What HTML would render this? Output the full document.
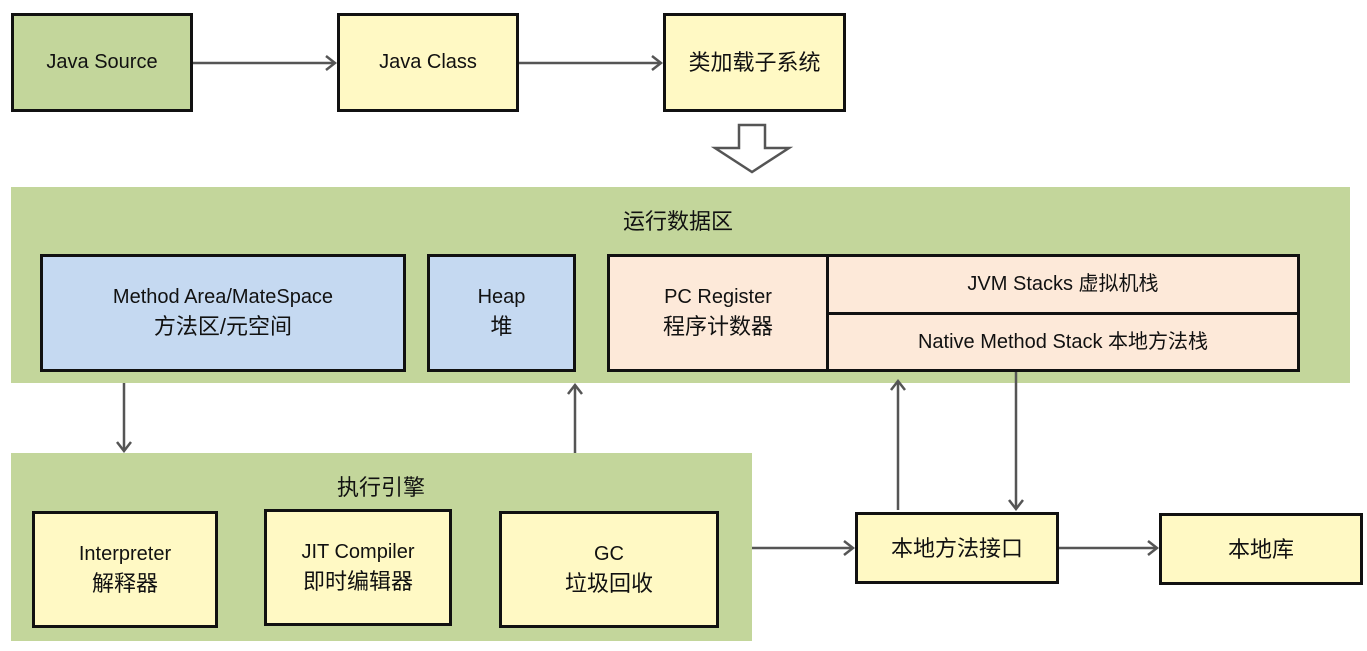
<!DOCTYPE html>
<html><head><meta charset="utf-8"><style>
body{margin:0;width:1367px;height:651px;background:#fff;position:relative;overflow:hidden;font-family:"Liberation Sans","Noto Sans CJK SC",sans-serif;color:#111}
.b{position:absolute;box-sizing:border-box;border:3px solid #111;display:flex;align-items:center;justify-content:center;text-align:center;font-size:20px;line-height:29px}
.b span{font-size:22px}
.g{position:absolute;background:#c3d69b}
.y{background:#fff9c4}.gr{background:#c3d69b}.bl{background:#c5d9f1}.p{background:#fde9d9}
.t{position:absolute;font-size:22px;transform:translateX(-50%)}
svg{position:absolute;left:0;top:0}
</style></head><body>
<div class="g" style="left:11px;top:187px;width:1339px;height:196px"></div>
<div class="g" style="left:11px;top:453px;width:741px;height:188px"></div>
<div class="t" style="left:678px;top:204px">运行数据区</div>
<div class="t" style="left:381px;top:470px">执行引擎</div>
<div class="b gr" style="left:11px;top:13px;width:182px;height:99px">Java Source</div>
<div class="b y" style="left:337px;top:13px;width:182px;height:99px">Java Class</div>
<div class="b y" style="left:663px;top:13px;width:183px;height:99px;font-size:22px">类加载子系统</div>
<div class="b bl" style="left:40px;top:254px;width:366px;height:118px"><div>Method Area/MateSpace<br><span>方法区/元空间</span></div></div>
<div class="b bl" style="left:427px;top:254px;width:149px;height:118px"><div>Heap<br><span>堆</span></div></div>
<div class="b p" style="left:607px;top:254px;width:222px;height:118px"><div>PC Register<br><span>程序计数器</span></div></div>
<div class="b p" style="left:826px;top:254px;width:474px;height:61px">JVM Stacks 虚拟机栈</div>
<div class="b p" style="left:826px;top:312px;width:474px;height:60px">Native Method Stack 本地方法栈</div>
<div class="b y" style="left:32px;top:511px;width:186px;height:117px"><div>Interpreter<br><span>解释器</span></div></div>
<div class="b y" style="left:264px;top:509px;width:188px;height:117px"><div>JIT Compiler<br><span>即时编辑器</span></div></div>
<div class="b y" style="left:499px;top:511px;width:220px;height:117px"><div>GC<br><span>垃圾回收</span></div></div>
<div class="b y" style="left:855px;top:512px;width:204px;height:72px;font-size:22px">本地方法接口</div>
<div class="b y" style="left:1159px;top:513px;width:204px;height:72px;font-size:22px">本地库</div>
<svg width="1367" height="651">
<defs><marker id="a" markerWidth="14" markerHeight="16" refX="12" refY="8" orient="auto" markerUnits="userSpaceOnUse"><path d="M3,1 L12,8 L3,15" fill="none" stroke="#555" stroke-width="2.5"/></marker></defs>
<g stroke="#555" stroke-width="2.5" fill="none" marker-end="url(#a)">
<line x1="193" y1="63" x2="335" y2="63"/>
<line x1="519" y1="63" x2="661" y2="63"/>
<line x1="124" y1="383" x2="124" y2="451"/>
<line x1="575" y1="453" x2="575" y2="385"/>
<line x1="752" y1="548" x2="853" y2="548"/>
<line x1="898" y1="510" x2="898" y2="381"/>
<line x1="1016" y1="372" x2="1016" y2="509"/>
<line x1="1059" y1="548" x2="1157" y2="548"/>
</g>
<path d="M739,125 H765 V148 H789 L752,172 L715,148 H739 Z" fill="#fff" stroke="#555" stroke-width="2.5"/>
</svg>
</body></html>
